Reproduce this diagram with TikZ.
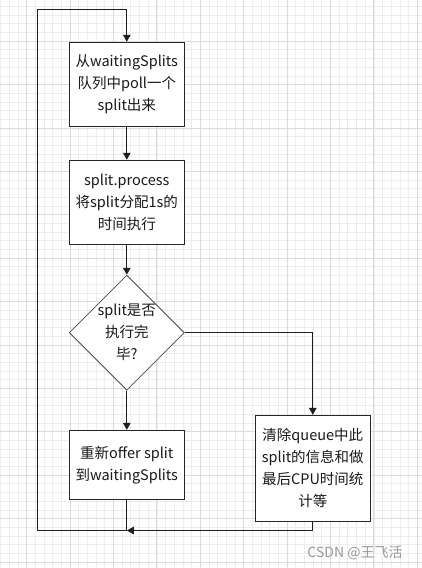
\documentclass[tikz,border=0pt]{standalone}
\usepackage{fontspec}
\newfontfamily\cjk{Noto Sans CJK SC}
\usetikzlibrary{shapes.geometric,arrows.meta}
\tikzset{
  boxnode/.style={draw=black!85, line width=1pt, fill=white, minimum width=115pt, inner sep=0pt, align=center,
    font=\cjk\fontsize{14.5}{22}\selectfont, text=black!90},
  decnode/.style={draw=black!70, line width=0.8pt, fill=white, diamond, aspect=1, minimum width=115pt, minimum height=115pt,
    inner sep=0pt, align=center, font=\cjk\fontsize{14.5}{22}\selectfont, text=black!90},
  conn/.style={line width=1.2pt, draw=black!88},
  arr/.style={conn, -{Triangle[length=7pt,width=7.5pt]}},
  minorline/.style={draw=black!7, line width=0.8pt},
  majorline/.style={draw=black!14, line width=0.9pt},
}
\begin{document}
\begin{tikzpicture}[x=1pt,y=-1pt]
\useasboundingbox (0,0) rectangle (422,568);
\fill[white] (0,0) rectangle (422,568);
% grid
\foreach \i in {-3,...,45} {
  \pgfmathsetmacro{\gx}{26.7+8.68*\i}
  \draw[minorline] (\gx,0) -- (\gx,568);
}
\foreach \i in {0,...,66} {
  \pgfmathsetmacro{\gy}{-2.2+8.68*\i}
  \draw[minorline] (0,\gy) -- (422,\gy);
}
\foreach \i in {-1,...,9} {
  \pgfmathsetmacro{\gx}{26.7+43.4*\i}
  \draw[majorline] (\gx,0) -- (\gx,568);
}
\foreach \i in {0,...,13} {
  \pgfmathsetmacro{\gy}{-2.2+43.4*\i}
  \draw[majorline] (0,\gy) -- (422,\gy);
}
% nodes
\node[boxnode, minimum height=84pt] (b1) at (126.8,84.3) {从waitingSplits\\队列中poll一个\\split出来};
\node[boxnode, minimum height=84pt] (b2) at (126.8,202.3) {split.process\\将split分配1s的\\时间执行};
\node[decnode] (d) at (126.8,332.7) {split是否\\执行完\\毕?};
\node[boxnode, minimum height=68.7pt] (b3) at (126.8,464.7) {重新offer split\\到waitingSplits};
\node[boxnode, minimum height=105.7pt] (b4) at (312.8,468.2) {清除queue中此\\split的信息和做\\最后CPU时间统\\计等};
\coordinate (m) at (126.8,530.5);
\coordinate (lc) at (37.3,9.3);
% connectors
\draw[arr] (b1.south) -- (b2.north);
\draw[arr] (b2.south) -- (d.north);
\draw[arr] (d.south) -- (b3.north);
\draw[arr] (d.east) -| (b4.north);
\draw[conn] (b3.south) -- (m);
\draw[arr] (b4.south) |- (m);
\draw[arr] (m) -| (lc) -| (b1.north);
% watermark
\node[font=\cjk\fontsize{14}{16}\selectfont, text=black!40, inner sep=0pt] (wm) at (355,552.5) {CSDN @王飞活};
\end{tikzpicture}
\end{document}
